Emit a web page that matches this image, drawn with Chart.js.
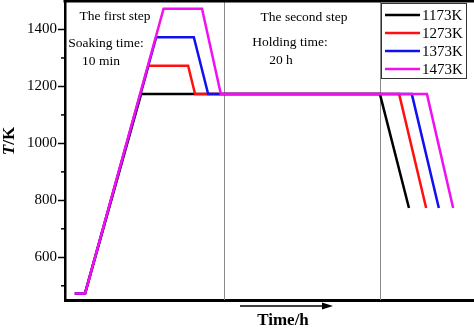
<!DOCTYPE html>
<html>
<head>
<meta charset="utf-8">
<script src="https://cdn.jsdelivr.net/npm/chart.js@4/dist/chart.umd.min.js"></script>
<style>
  html, body { margin: 0; padding: 0; background: #ffffff; }
  #wrap { width: 474px; height: 331px; }
</style>
</head>
<body>
<div id="wrap"><canvas id="heat" width="474" height="331"></canvas></div>
<script>
// time axis is in arbitrary units (0..100 across the plot)
const seriesLabels = ['1173K', '1273K', '1373K', '1473K'];
const seriesColors = ['#000000', '#ff1010', '#1010f0', '#f010f0'];

const time1173 = [2.4, 4.9, 18.6, 77.0, 84.1];
const temp1173 = [473, 473, 1173, 1173, 773];
const time1273 = [2.4, 4.9, 20.4, 30.1, 31.8, 81.7, 88.3];
const temp1273 = [473, 473, 1273, 1273, 1173, 1173, 773];
const time1373 = [2.4, 4.9, 22.3, 31.5, 35.0, 84.8, 91.4];
const temp1373 = [473, 473, 1373, 1373, 1173, 1173, 773];
const time1473 = [2.4, 4.9, 24.1, 33.5, 38.1, 88.5, 94.9];
const temp1473 = [473, 473, 1473, 1473, 1173, 1173, 773];

const stepBoundaries = [38.9, 77.0];
const yTickValues = [600, 800, 1000, 1200, 1400];
const yMinorValues = [500, 700, 900, 1100, 1300];

const SERIF = "'Liberation Serif', 'Times New Roman', serif";

function toPoints(xs, ys) {
    return xs.map((x, i) => ({ x: x, y: ys[i] }));
}

const allTimes = [time1173, time1273, time1373, time1473];
const allTemps = [temp1173, temp1273, temp1373, temp1473];

const datasets = seriesLabels.map((label, i) => ({
    label: label,
    data: toPoints(allTimes[i], allTemps[i]),
    borderColor: seriesColors[i],
    backgroundColor: seriesColors[i],
    borderWidth: 2.5,
    pointRadius: 0,
    tension: 0,
    fill: false,
    order: seriesLabels.length - i   // magenta drawn on top
}));

// extra drawing: frame top, step lines, minor ticks, notes, legend, axis titles
const decorations = {
    id: 'decorations',
    beforeDatasetsDraw(chart) {
        const { ctx, chartArea, scales } = chart;
        ctx.save();
        ctx.strokeStyle = '#8a8a8a';
        ctx.lineWidth = 1;
        stepBoundaries.forEach(t => {
            const px = Math.round(scales.x.getPixelForValue(t)) + 0.5;
            ctx.beginPath();
            ctx.moveTo(px, chartArea.top);
            ctx.lineTo(px, chartArea.bottom);
            ctx.stroke();
        });
        ctx.restore();
    },
    afterDraw(chart) {
        const { ctx, chartArea, scales } = chart;
        ctx.save();

        // top frame
        ctx.strokeStyle = '#000';
        ctx.lineWidth = 3;
        ctx.beginPath();
        ctx.moveTo(chartArea.left - 1.5, chartArea.top);
        ctx.lineTo(chartArea.right, chartArea.top);
        ctx.stroke();

        // minor ticks on T axis
        ctx.lineWidth = 1.5;
        yMinorValues.forEach(v => {
            const py = scales.y.getPixelForValue(v);
            ctx.beginPath();
            ctx.moveTo(chartArea.left - 4, py);
            ctx.lineTo(chartArea.left, py);
            ctx.stroke();
        });

        // notes
        ctx.fillStyle = '#000';
        ctx.font = '13.5px ' + SERIF;
        ctx.textAlign = 'center';
        ctx.textBaseline = 'middle';
        ctx.fillText('The first step', 115, 16);
        ctx.fillText('Soaking time:', 106, 43);
        ctx.fillText('10 min', 101, 61);
        ctx.fillText('The second step', 304, 17);
        ctx.fillText('Holding time:', 290, 42);
        ctx.fillText('20 h', 281, 60);

        // legend
        ctx.fillStyle = '#fff';
        ctx.fillRect(381, 3, 85, 75);
        ctx.strokeStyle = '#333';
        ctx.lineWidth = 1;
        ctx.strokeRect(381.5, 3.5, 85, 75);
        ctx.font = '15px ' + SERIF;
        ctx.textAlign = 'left';
        chart.data.datasets.forEach((ds, i) => {
            const ry = 15 + i * 18;
            ctx.strokeStyle = ds.borderColor;
            ctx.lineWidth = 2.5;
            ctx.beginPath();
            ctx.moveTo(385, ry);
            ctx.lineTo(420, ry);
            ctx.stroke();
            ctx.fillStyle = '#000';
            ctx.fillText(ds.label, 422, ry + 1);
        });

        // x title and arrow
        ctx.font = 'bold 17px ' + SERIF;
        ctx.textAlign = 'center';
        ctx.fillText('Time/h', 283, 321);
        ctx.strokeStyle = '#000';
        ctx.lineWidth = 1.5;
        ctx.beginPath();
        ctx.moveTo(240, 306);
        ctx.lineTo(326, 306);
        ctx.stroke();
        ctx.beginPath();
        ctx.moveTo(333, 306);
        ctx.lineTo(322, 302.5);
        ctx.lineTo(322, 309.5);
        ctx.closePath();
        ctx.fill();

        // y title: italic T + /K
        ctx.translate(10, 141);
        ctx.rotate(-Math.PI / 2);
        ctx.textAlign = 'left';
        const fT = 'italic bold 17px ' + SERIF;
        const fK = 'bold 17px ' + SERIF;
        ctx.font = fT;
        const wT = ctx.measureText('T').width;
        ctx.font = fK;
        const wK = ctx.measureText('/K').width;
        const x0 = -(wT + wK) / 2;
        ctx.font = fT;
        ctx.fillText('T', x0, 0);
        ctx.font = fK;
        ctx.fillText('/K', x0 + wT, 0);

        ctx.restore();
    }
};

const chart = new Chart(document.getElementById('heat'), {
    type: 'line',
    data: { datasets: datasets },
    options: {
        responsive: false,
        devicePixelRatio: 1,
        animation: false,
        layout: { padding: { top: 1, right: 0, bottom: 0, left: 0 } },
        plugins: {
            legend: { display: false },
            tooltip: { enabled: false }
        },
        scales: {
            x: {
                type: 'linear',
                min: 0,
                max: 100,
                ticks: { display: false },
                grid: { display: false, drawTicks: false },
                border: { display: true, color: '#000', width: 3 },
                afterFit(scale) {
                    scale.height = 31;
                    scale.paddingLeft = 0;
                    scale.paddingRight = 0;
                }
            },
            y: {
                type: 'linear',
                min: 450,
                max: 1500,
                afterBuildTicks(scale) {
                    scale.ticks = yTickValues.map(v => ({ value: v }));
                },
                ticks: {
                    color: '#000',
                    font: { family: SERIF, size: 15 },
                    padding: 1,
                    callback: v => String(v)
                },
                grid: {
                    drawOnChartArea: false,
                    tickLength: 7,
                    tickColor: '#000',
                    tickWidth: 1.5
                },
                border: { color: '#000', width: 2.5 },
                afterFit(scale) {
                    scale.width = 65;
                    scale.paddingTop = 0;
                    scale.paddingBottom = 0;
                }
            }
        }
    },
    plugins: [decorations]
});
</script>
</body>
</html>
